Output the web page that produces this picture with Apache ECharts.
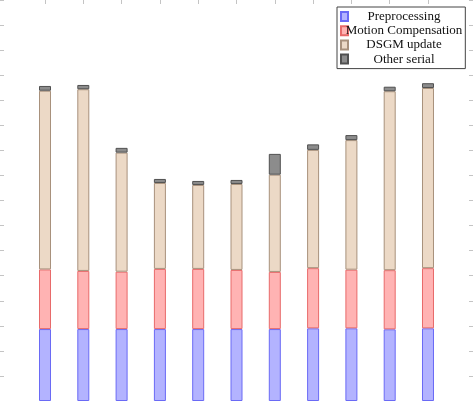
<!DOCTYPE html>
<html>
<head>
<meta charset="utf-8">
<script src="https://cdn.jsdelivr.net/npm/echarts@6/dist/echarts.min.js"></script>
<style>
  html, body { margin: 0; padding: 0; background: #fff; }
  #chart { width: 474px; height: 401px; }
</style>
</head>
<body>
<div id="chart"></div>
<script>
// 数据：11 组堆叠柱
var positions = [1, 2, 3, 4, 5, 6, 7, 8, 9, 10, 11];
var preprocessing = [2.87, 2.87, 2.87, 2.87, 2.87, 2.87, 2.87, 2.90, 2.90, 2.86, 2.90];
var motionComp    = [2.38, 2.32, 2.29, 2.40, 2.40, 2.36, 2.28, 2.40, 2.34, 2.36, 2.40];
var dsgmUpdate    = [7.13, 7.25, 4.75, 3.43, 3.35, 3.43, 3.88, 4.72, 5.17, 7.14, 7.19];
var otherSerial   = [0.19, 0.17, 0.19, 0.16, 0.16, 0.16, 0.83, 0.22, 0.20, 0.18, 0.19];
var seriesNames = ['Preprocessing', 'Motion Compensation', 'DSGM update', 'Other serial'];

var chart = echarts.init(document.getElementById('chart'));

// [值, 位置]，值放第一列让 stack 落在 y 上
function pairs(vals) {
  return positions.map(function (x, i) { return [vals[i], x]; });
}

var tickStyle = { color: '#c4c4c4', width: 1 };

function makeBar(name, vals, fill, border) {
  return {
    name: name,
    type: 'bar',
    stack: 'total',
    barWidth: 12,
    encode: { x: 1, y: 0 },
    data: pairs(vals),
    itemStyle: { color: fill, borderColor: border, borderWidth: 1 },
    emphasis: { disabled: true }
  };
}

function xAx(pos) {
  return {
    type: 'value', min: -0.175, max: 12.175, position: pos,
    axisLine: { show: false, onZero: false },
    axisTick: { show: true, inside: true, length: 4, lineStyle: tickStyle, customValues: positions },
    axisLabel: { show: false, customValues: positions },
    splitLine: { show: false }
  };
}

function yAx(pos) {
  return {
    type: 'value', min: 0, max: 16, interval: 1, position: pos,
    axisLine: { show: false, onZero: false },
    axisTick: { show: true, inside: true, length: 4, lineStyle: tickStyle },
    axisLabel: { show: false },
    splitLine: { show: false }
  };
}

var option = {
  animation: false,
  backgroundColor: '#fff',
  grid: { left: 0, right: 1, top: 0, bottom: 0 },
  xAxis: [xAx('bottom'), xAx('top')],
  yAxis: [yAx('left'), yAx('right')],
  legend: {
    data: seriesNames,
    orient: 'vertical',
    left: 337,
    top: 7,
    padding: [3, 3, 3, 3],
    itemGap: 1.2,
    itemWidth: 7,
    itemHeight: 9,
    icon: 'rect',
    backgroundColor: '#fff',
    borderColor: '#444',
    borderWidth: 1,
    borderRadius: 0,
    selectedMode: false,
    formatter: function (name) { return '{t|' + name + '}'; },
    textStyle: {
      rich: {
        t: {
          width: 102,
          align: 'center',
          fontFamily: 'Liberation Serif',
          fontSize: 13,
          lineHeight: 14,
          color: '#111'
        }
      }
    }
  },
  series: [
    makeBar(seriesNames[0], preprocessing, '#b3b3ff', '#6a6af5'),
    makeBar(seriesNames[1], motionComp, '#ffb3b3', '#e86a6a'),
    makeBar(seriesNames[2], dsgmUpdate, '#ecd9c6', '#a8917c'),
    makeBar(seriesNames[3], otherSerial, '#8c8c8c', '#505050'),
    // 空系列，只为让顶部和右侧的刻度轴画出来
    { type: 'scatter', xAxisIndex: 1, yAxisIndex: 1, data: [], silent: true }
  ]
};

chart.setOption(option);
</script>
</body>
</html>
